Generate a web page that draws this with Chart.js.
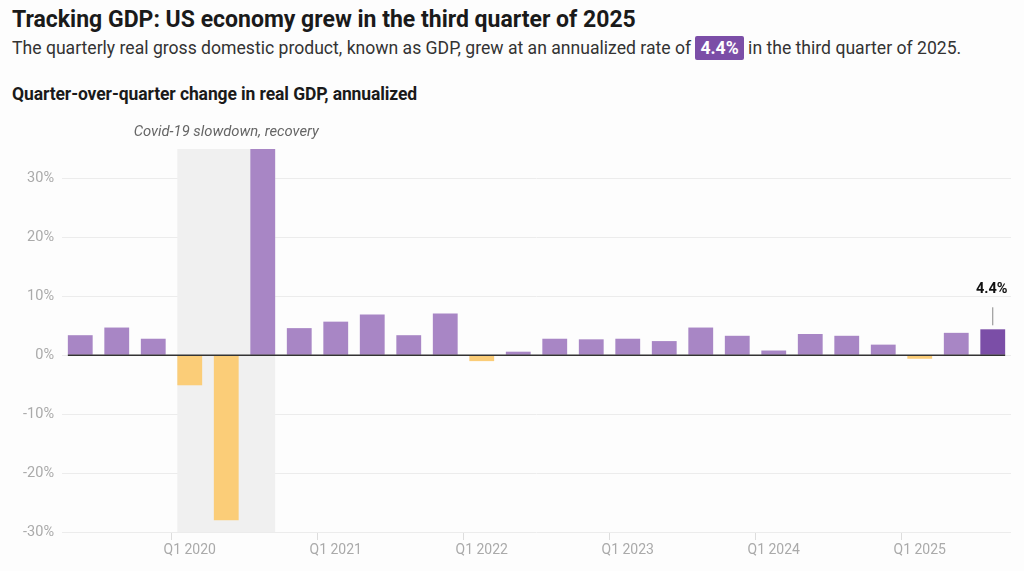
<!DOCTYPE html>
<html>
<head>
<meta charset="utf-8">
<script src="https://cdn.jsdelivr.net/npm/chart.js@4.4.0/dist/chart.umd.min.js"></script>
<style>
  html, body { margin: 0; padding: 0; background: #fdfdfd; }
  body { width: 1024px; height: 571px; position: relative; overflow: hidden; font-family: Roboto, "Noto Sans", sans-serif; color: #1a1a1a; }
  #title { position: absolute; left: 12px; top: 6px; font-size: 23px; font-weight: bold; letter-spacing: 0; white-space: nowrap; }
  #sub { position: absolute; left: 12px; top: 38px; font-size: 17.6px; color: #333; white-space: nowrap; }
  #sub .badge { background: #7b4ea7; color: #fff; font-weight: bold; padding: 2px 5px; border-radius: 2px; }
  #head { position: absolute; left: 12px; top: 84px; font-size: 17.5px; font-weight: bold; letter-spacing: -0.1px; white-space: nowrap; }
  #wrap { position: absolute; left: 0; top: 110px; width: 1024px; height: 461px; }
</style>
</head>
<body>
<div id="title">Tracking GDP: US economy grew in the third quarter of 2025</div>
<div id="sub">The quarterly real gross domestic product, known as GDP, grew at an annualized rate of <span class="badge">4.4%</span> in the third quarter of 2025.</div>
<div id="head">Quarter-over-quarter change in real GDP, annualized</div>
<div id="wrap"><canvas id="mycanvas"></canvas></div>
<script>
var quarters = ['Q2 2019','Q3 2019','Q4 2019','Q1 2020','Q2 2020','Q3 2020','Q4 2020',
  'Q1 2021','Q2 2021','Q3 2021','Q4 2021','Q1 2022','Q2 2022','Q3 2022','Q4 2022',
  'Q1 2023','Q2 2023','Q3 2023','Q4 2023','Q1 2024','Q2 2024','Q3 2024','Q4 2024',
  'Q1 2025','Q2 2025','Q3 2025'];
var growth = [3.4, 4.7, 2.8, -5.1, -28.0, 35.2, 4.6,
  5.7, 6.9, 3.4, 7.1, -1.0, 0.6, 2.8, 2.7,
  2.8, 2.4, 4.7, 3.3, 0.8, 3.6, 3.3, 1.8,
  -0.6, 3.8, 4.4];
var yTicks = [-30, -20, -10, 0, 10, 20, 30];
var covidStart = 'Q1 2020';
var covidEnd = 'Q3 2020';
var covidNote = 'Covid-19 slowdown, recovery';

var colors = growth.map(function(v, i) {
  if (i == growth.length - 1) return '#7b4ea7';
  return v < 0 ? '#fbcd78' : '#a886c5';
});

var overlay = {
  id: 'overlay',
  beforeDatasetsDraw: function(chart) {
    var ctx = chart.ctx, a = chart.chartArea;
    var meta = chart.getDatasetMeta(0);
    var b0 = meta.data[quarters.indexOf(covidStart)];
    var b1 = meta.data[quarters.indexOf(covidEnd)];
    var left = b0.x - b0.width / 2, right = b1.x + b1.width / 2;
    ctx.save();
    ctx.fillStyle = '#f0f0f0';
    ctx.fillRect(left, a.top, right - left, a.bottom - a.top);
    ctx.fillStyle = '#666';
    ctx.font = 'italic 14.8px Roboto, sans-serif';
    ctx.textAlign = 'center';
    ctx.textBaseline = 'middle';
    ctx.fillText(covidNote, (left + right) / 2, a.top - 17);
    ctx.restore();
  },
  afterDatasetsDraw: function(chart) {
    var ctx = chart.ctx, y = chart.scales.y;
    var meta = chart.getDatasetMeta(0);
    var first = meta.data[0], last = meta.data[meta.data.length - 1];
    var y0 = y.getPixelForValue(0);
    ctx.save();
    ctx.strokeStyle = '#333';
    ctx.lineWidth = 1.5;
    ctx.beginPath();
    ctx.moveTo(first.x - first.width / 2, y0);
    ctx.lineTo(last.x + last.width / 2, y0);
    ctx.stroke();
    // label for the last quarter
    var top = y.getPixelForValue(growth[growth.length - 1]);
    ctx.strokeStyle = '#888';
    ctx.lineWidth = 1;
    ctx.beginPath();
    ctx.moveTo(last.x, top - 4);
    ctx.lineTo(last.x, top - 22);
    ctx.stroke();
    ctx.fillStyle = '#111';
    ctx.font = 'bold 14.5px Roboto, sans-serif';
    ctx.textAlign = 'center';
    ctx.textBaseline = 'middle';
    ctx.fillText(growth[growth.length - 1].toFixed(1) + '%', last.x - 1, top - 40);
    ctx.restore();
  }
};

var chartdata = {
  labels: quarters,
  datasets: [{
    data: growth,
    backgroundColor: colors,
    borderWidth: 0,
    categoryPercentage: 1,
    barPercentage: 0.68
  }]
};

var barGraph = new Chart(document.getElementById('mycanvas'), {
  type: 'bar',
  data: chartdata,
  plugins: [overlay],
  options: {
    responsive: true,
    maintainAspectRatio: false,
    animation: false,
    layout: { padding: { top: 39, right: 13, left: 0, bottom: 0 } },
    plugins: { legend: { display: false }, tooltip: { enabled: false } },
    scales: {
      x: {
        border: { display: false },
        grid: {
          drawOnChartArea: false,
          tickLength: 8,
          color: function(c) { return quarters[c.index] && quarters[c.index].indexOf('Q1') == 0 ? '#ddd' : 'rgba(0,0,0,0)'; }
        },
        ticks: {
          autoSkip: false,
          maxRotation: 0,
          color: '#aaa',
          font: { family: 'Roboto', size: 14 },
          padding: 2,
          callback: function(v, i) { return quarters[i].indexOf('Q1') == 0 ? quarters[i] : ''; }
        },
        afterFit: function(s) { s.height = 39; }
      },
      y: {
        min: -30,
        max: 35,
        border: { display: false },
        grid: { color: '#ececec', drawTicks: false },
        ticks: {
          color: '#aaa',
          font: { family: 'Roboto', size: 14.5 },
          padding: 8,
          callback: function(v) { return v + '%'; }
        },
        afterBuildTicks: function(s) {
          s.ticks = yTicks.map(function(v) { return { value: v }; });
        },
        afterFit: function(s) { s.width = 62; }
      }
    }
  }
});
</script>
</body>
</html>
